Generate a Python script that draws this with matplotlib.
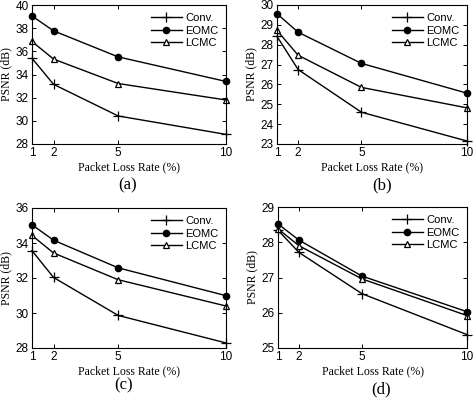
import numpy as np
import matplotlib
matplotlib.use("Agg")
from matplotlib import pyplot as plt

loss_rate = [1, 2, 5, 10]
series_names = ["Conv.", "EOMC", "LCMC"]
panel_labels = ["(a)", "(b)", "(c)", "(d)"]

# PSNR values per panel: Conv., EOMC, LCMC
conv_a = [35.4, 33.15, 30.42, 28.83]
eomc_a = [39.05, 37.77, 35.52, 33.4]
lcmc_a = [36.85, 35.33, 33.22, 31.8]

conv_b = [28.42, 26.75, 24.6, 23.15]
eomc_b = [29.56, 28.63, 27.06, 25.56]
lcmc_b = [28.72, 27.47, 25.85, 24.82]

conv_c = [33.56, 32.03, 29.86, 28.29]
eomc_c = [35.04, 34.16, 32.58, 30.99]
lcmc_c = [34.43, 33.43, 31.9, 30.4]

conv_d = [28.34, 27.71, 26.54, 25.38]
eomc_d = [28.52, 28.06, 27.04, 26.03]
lcmc_d = [28.38, 27.9, 26.96, 25.92]

ylims = [(28, 40), (23, 30), (28, 36), (25, 29)]
yticks = [np.arange(28, 41, 2), np.arange(23, 31, 1),
          np.arange(28, 37, 2), np.arange(25, 30, 1)]

data = [(conv_a, eomc_a, lcmc_a), (conv_b, eomc_b, lcmc_b),
        (conv_c, eomc_c, lcmc_c), (conv_d, eomc_d, lcmc_d)]

W, H = 474, 399
# axes boxes in pixels: left, top, right, bottom
boxes = [(32, 5, 226, 144), (277, 5, 467, 144),
         (32, 208, 226, 348), (278, 207, 467, 348)]
label_pos = [(128, 185), (382, 185), (124, 385), (381, 389)]

fig = plt.figure(figsize=(W / 100, H / 100), dpi=100)

styles = [dict(marker='+', ms=7, mew=0.9),
          dict(marker='o', ms=4.5, mfc='k', mec='k'),
          dict(marker='^', ms=5, mfc='white', mec='k', mew=0.9)]

for i in range(4):
    l, t, r, b = boxes[i]
    ax = fig.add_axes([l / W, 1 - b / H, (r - l) / W, (b - t) / H])
    for name, vals, st in zip(series_names, data[i], styles):
        ax.plot(loss_rate, vals, color='k', lw=1.0, label=name,
                clip_on=False, **st)
    ax.set_xlim(1, 10)
    ax.set_ylim(*ylims[i])
    ax.set_xticks(loss_rate)
    ax.set_yticks(yticks[i])
    ax.tick_params(direction='in', length=3, width=0.7, top=True, right=True,
                   labelsize=8.5, pad=2.5)
    for lab in ax.get_xticklabels() + ax.get_yticklabels():
        lab.set_family('Liberation Sans')
    for s in ax.spines.values():
        s.set_linewidth(0.8)
    ax.set_xlabel('Packet Loss Rate (%)', family='Liberation Serif',
                  fontsize=8.5, labelpad=1)
    ax.set_ylabel('PSNR (dB)', family='Liberation Serif', fontsize=8.5,
                  labelpad=2)
    ax.legend(loc='upper right', frameon=False, handlelength=2.8,
              borderpad=0.4, labelspacing=0.25, handletextpad=0.3,
              borderaxespad=0.3,
              prop={'family': 'Liberation Sans', 'size': 8})
    fig.text(label_pos[i][0] / W, 1 - label_pos[i][1] / H, panel_labels[i],
             ha='center', va='center', family='Liberation Serif', fontsize=12)

fig.savefig('out.png', dpi=100)
